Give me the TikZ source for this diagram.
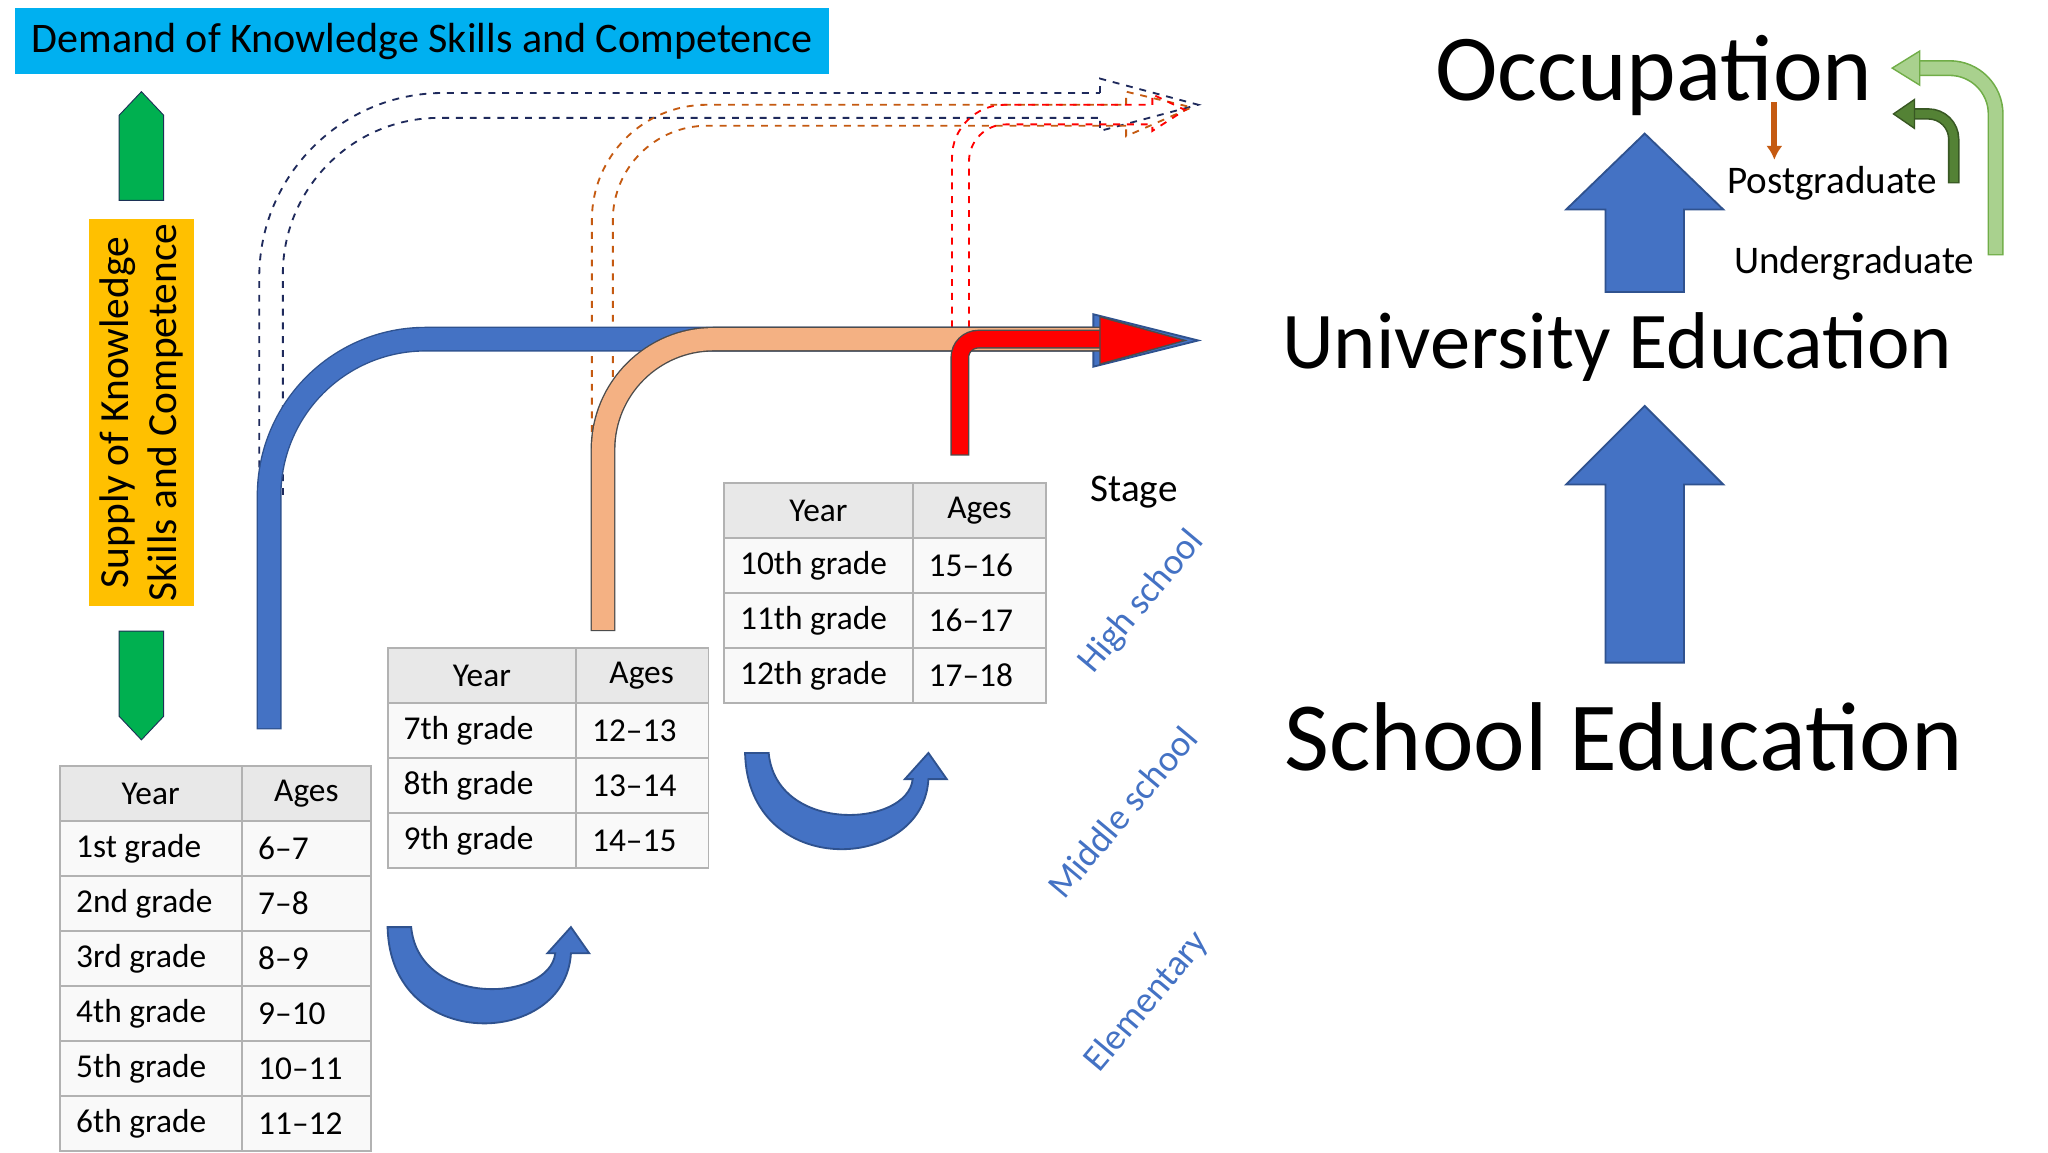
\documentclass[tikz,border=0pt]{standalone}
\usepackage{fontspec}
\setmainfont{Carlito}
\usetikzlibrary{arrows.meta,calc}
\begin{document}
\begin{tikzpicture}[x=0.02cm,y=-0.02cm,
  cell/.style={draw=gray!60,line width=0.8pt,fill=#1},
  ctext/.style={anchor=west,font=\fontsize{14.5}{16}\selectfont},
  htext/.style={anchor=center,font=\fontsize{14.5}{16}\selectfont},
  stagetxt/.style={font=\fontsize{16}{18}\selectfont,text=myblue,rotate=50},
  bigarrow/.style={fill=myblue,draw=mydark,line width=0.8pt}]
\definecolor{myblue}{HTML}{4472C4}
\definecolor{mydark}{HTML}{2F528F}
\definecolor{myorange}{HTML}{F4B183}
\definecolor{mycyan}{HTML}{00B0F0}
\definecolor{mygreen}{HTML}{00B050}
\definecolor{myyellow}{HTML}{FFC000}
\definecolor{navy}{HTML}{1F2A5C}
\definecolor{dorange}{HTML}{C55A11}
\definecolor{dgreen}{HTML}{548235}
\definecolor{dgreenb}{HTML}{385723}
\definecolor{lgreen}{HTML}{A9D18E}
\definecolor{lgreenb}{HTML}{70AD47}
\useasboundingbox[fill=white] (0,0) rectangle (1564,880);
% top-left
\node[fill=mycyan,minimum width=622*0.02cm,minimum height=50*0.02cm,anchor=north west,inner sep=0,font=\fontsize{18.3}{20}\selectfont] (demand) at (11,6) {Demand of Knowledge Skills and Competence};
\fill[mygreen,draw=mydark!60!black,line width=0.4pt] (91,153) -- (91,88) -- (108,70) -- (125,88) -- (125,153) -- cycle;
\node[fill=myyellow,minimum width=296*0.02cm,minimum height=80*0.02cm,rotate=90,inner sep=0,align=center,font=\fontsize{18}{21}\selectfont] (supply) at (108,315) {Supply of Knowledge\\Skills and Competence};
\fill[mygreen,draw=mydark!60!black,line width=0.4pt] (91,482) -- (125,482) -- (125,547) -- (108,565) -- (91,547) -- cycle;
% dashed arrows
\begin{scope}[dashed,line width=0.8pt]
\draw[navy,rounded corners=80pt] (198,378) |- (840,71);
\draw[navy,rounded corners=68pt] (216,378) |- (840,90);
\draw[navy] (840,71) -- (840,60) -- (915,80) -- (840,100) -- (840,90);
\draw[dorange,rounded corners=50pt] (452,330) |- (860,80);
\draw[dorange,rounded corners=41pt] (468,330) |- (860,96);
\draw[dorange] (860,80) -- (860,70) -- (910,82) -- (860,104) -- (860,96);
\draw[red,rounded corners=23pt] (727,250) |- (880,80);
\draw[red,rounded corners=16pt] (740,250) |- (880,95);
\draw[red] (880,80) -- (880,72) -- (905,84) -- (880,100) -- (880,95);
\end{scope}
% solid bent arrows
\draw[mydark,line width=10.8pt,rounded corners=68pt] (205.5,557) |- (836,259);
\draw[myblue,line width=9.6pt,rounded corners=68pt] (205.5,556) |- (836,259);
\fill[myblue,draw=mydark,line width=0.8pt] (835,240) -- (915,260) -- (835,280) -- cycle;
\draw[black!70,line width=10.8pt,rounded corners=48pt] (460.5,482) |- (842,259);
\draw[myorange,line width=9.6pt,rounded corners=48pt] (460.5,481) |- (842,259);
\draw[black!70,line width=8.2pt,rounded corners=8pt] (733,348) |- (842,259);
\draw[red,line width=7pt,rounded corners=8pt] (733,347) |- (842,259);
\fill[red,draw=black!70,line width=0.6pt] (840,242) -- (905,260) -- (840,278) -- cycle;
% tables
\foreach \r/\a [count=\i from 0] in {Year/Ages,1st grade/6–7,2nd grade/7–8,3rd grade/8–9,4th grade/9–10,5th grade/10–11,6th grade/11–12}{
  \pgfmathsetmacro\yy{585+42*\i}
  \ifnum\i=0
   \draw[cell=gray!18] (46,\yy) rectangle (185,\yy+42); \draw[cell=gray!18] (185,\yy) rectangle (283,\yy+42);
   \node[htext] (ta\i) at (115,\yy+21) {\r}; \node[htext] (tb\i) at (234,\yy+21) {\a};
  \else
   \draw[cell=gray!5] (46,\yy) rectangle (185,\yy+42); \draw[cell=gray!5] (185,\yy) rectangle (283,\yy+42);
   \node[ctext] (ta\i) at (52,\yy+21) {\r}; \node[ctext] (tb\i) at (191,\yy+21) {\a};
  \fi}
\foreach \r/\a [count=\i from 0] in {Year/Ages,7th grade/12–13,8th grade/13–14,9th grade/14–15}{
  \pgfmathsetmacro\yy{495+42*\i}
  \ifnum\i=0
   \draw[cell=gray!18] (296,\yy) rectangle (440,\yy+42); \draw[cell=gray!18] (440,\yy) rectangle (541,\yy+42);
   \node[htext] (ua\i) at (368,\yy+21) {\r}; \node[htext] (ub\i) at (490,\yy+21) {\a};
  \else
   \draw[cell=gray!5] (296,\yy) rectangle (440,\yy+42); \draw[cell=gray!5] (440,\yy) rectangle (541,\yy+42);
   \node[ctext] (ua\i) at (302,\yy+21) {\r}; \node[ctext] (ub\i) at (446,\yy+21) {\a};
  \fi}
\foreach \r/\a [count=\i from 0] in {Year/Ages,10th grade/15–16,11th grade/16–17,12th grade/17–18}{
  \pgfmathsetmacro\yy{369+42*\i}
  \ifnum\i=0
   \draw[cell=gray!18] (553,\yy) rectangle (697,\yy+42); \draw[cell=gray!18] (697,\yy) rectangle (799,\yy+42);
   \node[htext] (va\i) at (625,\yy+21) {\r}; \node[htext] (vb\i) at (748,\yy+21) {\a};
  \else
   \draw[cell=gray!5] (553,\yy) rectangle (697,\yy+42); \draw[cell=gray!5] (697,\yy) rectangle (799,\yy+42);
   \node[ctext] (va\i) at (559,\yy+21) {\r}; \node[ctext] (vb\i) at (703,\yy+21) {\a};
  \fi}
% U arrows
\fill[myblue,draw=mydark,line width=0.8pt] (296,708) .. controls (298,805) and (432,800) .. (436,728) -- (450,728) -- (436,708) -- (418,728) -- (424,728) .. controls (420,765) and (320,770) .. (314,708) -- cycle;
\fill[myblue,draw=mydark,line width=0.8pt] (569,575) .. controls (571,672) and (705,667) .. (709,595) -- (723,595) -- (709,575) -- (691,595) -- (697,595) .. controls (693,632) and (593,637) .. (587,575) -- cycle;
% stage labels
\node[font=\fontsize{17}{18}\selectfont] (stage) at (866,376) {Stage};
\node[stagetxt] (high) at (872,460) {High school};
\node[stagetxt] (middle) at (857,620) {Middle school};
\node[stagetxt] (elem) at (876,765) {Elementary};
% right side
\node[font=\fontsize{41}{44}\selectfont] (occ) at (1263,58) {Occupation};
\node[font=\fontsize{35}{38}\selectfont] (uni) at (1235,265) {University Education};
\node[font=\fontsize{42.5}{46}\selectfont] (school) at (1240,563) {School Education};
\draw[bigarrow] (1226,223) -- (1226,160) -- (1196,160) -- (1256,102) -- (1316,160) -- (1286,160) -- (1286,223) -- cycle;
\draw[bigarrow] (1226,506) -- (1226,370) -- (1196,370) -- (1256,310) -- (1316,370) -- (1286,370) -- (1286,506) -- cycle;
\node[font=\fontsize{17}{18}\selectfont] (post) at (1399,140) {Postgraduate};
\node[font=\fontsize{17}{18}\selectfont] (under) at (1416,201) {Undergraduate};
\draw[dorange,line width=2.5pt,-{Latex[length=6pt,width=7pt]}] (1355,78) -- (1355,122);
\coordinate (g1e) at (1447,87);
\draw[dgreenb,line width=5pt,rounded corners=11pt] (1492,140) |- ($(g1e)+(12,0)$);
\draw[dgreen,line width=3.6pt,rounded corners=11pt] (1492,139) |- ($(g1e)+(12,0)$);
\fill[dgreen,draw=dgreenb,line width=0.6pt] (1462,76) -- (1446,87) -- (1462,98) -- cycle;
\coordinate (g2e) at (1445,52);
\draw[lgreenb,line width=7pt,rounded corners=20pt] (1524,195) |- ($(g2e)+(16,0)$);
\draw[lgreen,line width=5.6pt,rounded corners=20pt] (1524,194) |- ($(g2e)+(16,0)$);
\fill[lgreen,draw=lgreenb,line width=0.6pt] (1466,39) -- (1445,52) -- (1466,65) -- cycle;
\end{tikzpicture}
\end{document}
